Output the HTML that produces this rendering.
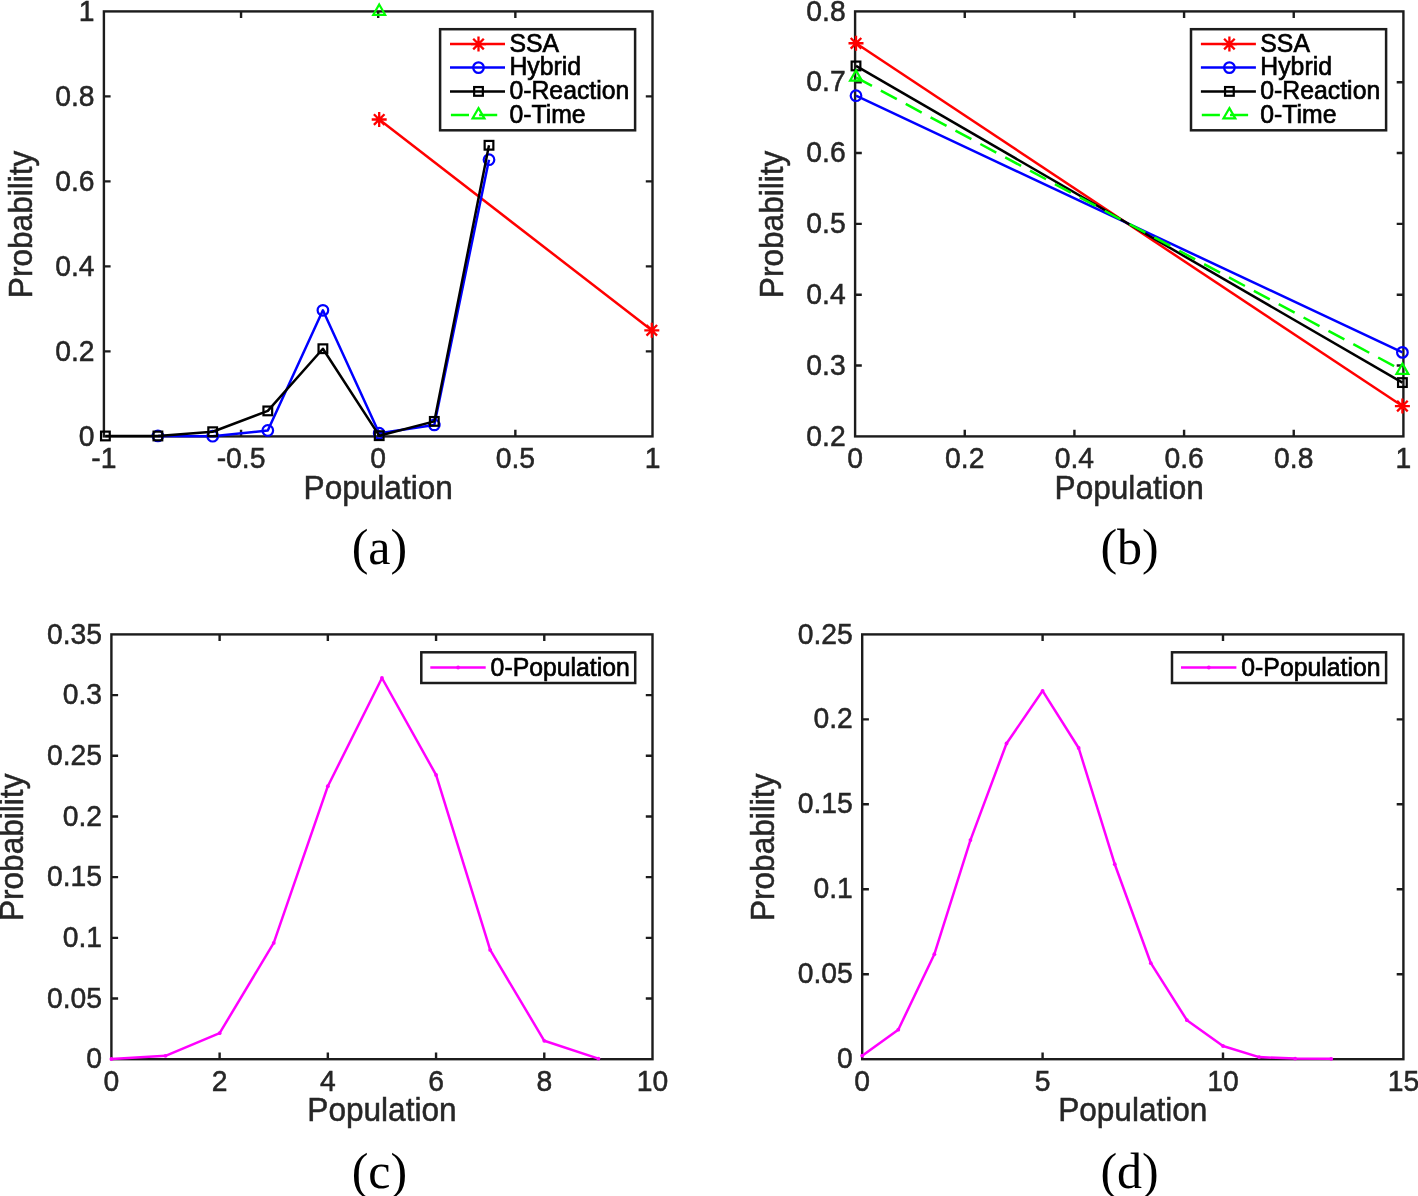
<!DOCTYPE html>
<html><head><meta charset="utf-8"><title>Figure</title>
<style>
html,body{margin:0;padding:0;background:#fff;}
svg{display:block}
.t{font-family:"Liberation Sans",Arial,Helvetica,sans-serif;font-size:28.3px;fill:#262626;stroke:#262626;stroke-width:.5px}
.l{font-family:"Liberation Sans",Arial,Helvetica,sans-serif;font-size:24.8px;fill:#000;stroke:#000;stroke-width:.65px}
.a{font-family:"Liberation Sans",Arial,Helvetica,sans-serif;font-size:31.6px;fill:#262626;stroke:#262626;stroke-width:.5px}
.c{font-family:"Liberation Serif","Times New Roman",Times,serif;font-size:50px;fill:#000}
</style></head><body>
<svg width="1418" height="1196" viewBox="0 0 1418 1196">
<rect width="1418" height="1196" fill="#fff"/>
<path d="M241.05 436.40v-6.7M241.05 11.40v6.7" stroke="#1c1c1c" stroke-width="2.4" fill="none"/>
<path d="M378.20 436.40v-6.7M378.20 11.40v6.7" stroke="#1c1c1c" stroke-width="2.4" fill="none"/>
<path d="M515.35 436.40v-6.7M515.35 11.40v6.7" stroke="#1c1c1c" stroke-width="2.4" fill="none"/>
<path d="M103.90 351.40h6.7M652.50 351.40h-6.7" stroke="#1c1c1c" stroke-width="2.4" fill="none"/>
<path d="M103.90 266.40h6.7M652.50 266.40h-6.7" stroke="#1c1c1c" stroke-width="2.4" fill="none"/>
<path d="M103.90 181.40h6.7M652.50 181.40h-6.7" stroke="#1c1c1c" stroke-width="2.4" fill="none"/>
<path d="M103.90 96.40h6.7M652.50 96.40h-6.7" stroke="#1c1c1c" stroke-width="2.4" fill="none"/>
<rect x="103.90" y="11.40" width="548.60" height="425.00" fill="none" stroke="#1c1c1c" stroke-width="2.4"/>
<text transform="translate(103.90 468.00) scale(1 1.065)" text-anchor="middle" class="t">-1</text>
<text transform="translate(241.05 468.00) scale(1 1.065)" text-anchor="middle" class="t">-0.5</text>
<text transform="translate(378.20 468.00) scale(1 1.065)" text-anchor="middle" class="t">0</text>
<text transform="translate(515.35 468.00) scale(1 1.065)" text-anchor="middle" class="t">0.5</text>
<text transform="translate(652.50 468.00) scale(1 1.065)" text-anchor="middle" class="t">1</text>
<text transform="translate(94.50 445.50) scale(1 1.065)" text-anchor="end" class="t">0</text>
<text transform="translate(94.50 360.50) scale(1 1.065)" text-anchor="end" class="t">0.2</text>
<text transform="translate(94.50 275.50) scale(1 1.065)" text-anchor="end" class="t">0.4</text>
<text transform="translate(94.50 190.50) scale(1 1.065)" text-anchor="end" class="t">0.6</text>
<text transform="translate(94.50 105.50) scale(1 1.065)" text-anchor="end" class="t">0.8</text>
<text transform="translate(94.50 20.50) scale(1 1.065)" text-anchor="end" class="t">1</text>
<path d="M379.20 119.52 L651.80 330.28" fill="none" stroke="#ff0000" stroke-width="2.5" stroke-linejoin="round"/>
<path d="M371.70 119.52h15.0M379.20 112.02v15.0M373.90 114.22l10.60 10.60M373.90 124.82l10.60 -10.60" fill="none" stroke="#ff0000" stroke-width="2.3"/>
<path d="M644.30 330.28h15.0M651.80 322.78v15.0M646.50 324.98l10.60 10.60M646.50 335.58l10.60 -10.60" fill="none" stroke="#ff0000" stroke-width="2.3"/>
<path d="M157.90 435.97 L212.70 436.19 L267.80 430.45 L322.90 310.34 L379.20 433.21 L434.30 424.92 L489.00 159.72" fill="none" stroke="#0000ff" stroke-width="2.5" stroke-linejoin="round"/>
<circle cx="157.90" cy="435.97" r="5.3" fill="none" stroke="#0000ff" stroke-width="2.2"/>
<circle cx="212.70" cy="436.19" r="5.3" fill="none" stroke="#0000ff" stroke-width="2.2"/>
<circle cx="267.80" cy="430.45" r="5.3" fill="none" stroke="#0000ff" stroke-width="2.2"/>
<circle cx="322.90" cy="310.34" r="5.3" fill="none" stroke="#0000ff" stroke-width="2.2"/>
<circle cx="379.20" cy="433.21" r="5.3" fill="none" stroke="#0000ff" stroke-width="2.2"/>
<circle cx="434.30" cy="424.92" r="5.3" fill="none" stroke="#0000ff" stroke-width="2.2"/>
<circle cx="489.00" cy="159.72" r="5.3" fill="none" stroke="#0000ff" stroke-width="2.2"/>
<path d="M105.40 435.97 L157.90 435.97 L212.70 431.72 L267.80 410.90 L322.90 348.72 L379.20 435.68 L434.30 421.40 L489.00 145.27" fill="none" stroke="#000000" stroke-width="2.5" stroke-linejoin="round"/>
<rect x="101.05" y="431.62" width="8.7" height="8.7" fill="none" stroke="#000000" stroke-width="2.2"/>
<rect x="153.55" y="431.62" width="8.7" height="8.7" fill="none" stroke="#000000" stroke-width="2.2"/>
<rect x="208.35" y="427.37" width="8.7" height="8.7" fill="none" stroke="#000000" stroke-width="2.2"/>
<rect x="263.45" y="406.55" width="8.7" height="8.7" fill="none" stroke="#000000" stroke-width="2.2"/>
<rect x="318.55" y="344.37" width="8.7" height="8.7" fill="none" stroke="#000000" stroke-width="2.2"/>
<rect x="374.85" y="431.33" width="8.7" height="8.7" fill="none" stroke="#000000" stroke-width="2.2"/>
<rect x="429.95" y="417.05" width="8.7" height="8.7" fill="none" stroke="#000000" stroke-width="2.2"/>
<rect x="484.65" y="140.92" width="8.7" height="8.7" fill="none" stroke="#000000" stroke-width="2.2"/>
<path d="M379.20 4.50L385.15 14.80L373.25 14.80Z" fill="none" stroke="#00ff00" stroke-width="2.2"/>
<rect x="440.10" y="29.20" width="195.00" height="101.10" fill="#fff" stroke="#1c1c1c" stroke-width="2.5"/>
<path d="M450.00 44.10 L505.00 44.10" fill="none" stroke="#ff0000" stroke-width="2.5" stroke-linejoin="round"/>
<path d="M471.00 44.10h15.0M478.50 36.60v15.0M473.20 38.80l10.60 10.60M473.20 49.40l10.60 -10.60" fill="none" stroke="#ff0000" stroke-width="2.3"/>
<text transform="translate(509.40 51.60) scale(1 1.04)" text-anchor="start" class="l">SSA</text>
<path d="M450.00 67.60 L505.00 67.60" fill="none" stroke="#0000ff" stroke-width="2.5" stroke-linejoin="round"/>
<circle cx="478.50" cy="67.60" r="5.3" fill="none" stroke="#0000ff" stroke-width="2.2"/>
<text transform="translate(509.40 75.10) scale(1 1.04)" text-anchor="start" class="l">Hybrid</text>
<path d="M450.00 91.40 L505.00 91.40" fill="none" stroke="#000000" stroke-width="2.5" stroke-linejoin="round"/>
<rect x="474.15" y="87.05" width="8.7" height="8.7" fill="none" stroke="#000000" stroke-width="2.2"/>
<text transform="translate(509.40 98.90) scale(1 1.04)" text-anchor="start" class="l">0-Reaction</text>
<path d="M450.90 115.00 L505.00 115.00" fill="none" stroke="#00ff00" stroke-width="2.5" stroke-linejoin="round" stroke-dasharray="18.1 10.12"/>
<path d="M478.50 108.10L484.45 118.40L472.55 118.40Z" fill="none" stroke="#00ff00" stroke-width="2.2"/>
<text transform="translate(509.40 122.50) scale(1 1.04)" text-anchor="start" class="l">0-Time</text>
<text transform="translate(32.10 224.40) rotate(-90) scale(1 1.04)" text-anchor="middle" class="a">Probability</text>
<text transform="translate(378.20 498.80) scale(1 1.04)" text-anchor="middle" class="a">Population</text>
<text transform="translate(379.40 563.50) scale(1 1)" text-anchor="middle" class="c">(a)</text>
<path d="M964.76 436.40v-6.7M964.76 11.40v6.7" stroke="#1c1c1c" stroke-width="2.4" fill="none"/>
<path d="M1074.42 436.40v-6.7M1074.42 11.40v6.7" stroke="#1c1c1c" stroke-width="2.4" fill="none"/>
<path d="M1184.08 436.40v-6.7M1184.08 11.40v6.7" stroke="#1c1c1c" stroke-width="2.4" fill="none"/>
<path d="M1293.74 436.40v-6.7M1293.74 11.40v6.7" stroke="#1c1c1c" stroke-width="2.4" fill="none"/>
<path d="M855.10 365.57h6.7M1403.40 365.57h-6.7" stroke="#1c1c1c" stroke-width="2.4" fill="none"/>
<path d="M855.10 294.73h6.7M1403.40 294.73h-6.7" stroke="#1c1c1c" stroke-width="2.4" fill="none"/>
<path d="M855.10 223.90h6.7M1403.40 223.90h-6.7" stroke="#1c1c1c" stroke-width="2.4" fill="none"/>
<path d="M855.10 153.07h6.7M1403.40 153.07h-6.7" stroke="#1c1c1c" stroke-width="2.4" fill="none"/>
<path d="M855.10 82.23h6.7M1403.40 82.23h-6.7" stroke="#1c1c1c" stroke-width="2.4" fill="none"/>
<rect x="855.10" y="11.40" width="548.30" height="425.00" fill="none" stroke="#1c1c1c" stroke-width="2.4"/>
<text transform="translate(855.10 468.00) scale(1 1.065)" text-anchor="middle" class="t">0</text>
<text transform="translate(964.76 468.00) scale(1 1.065)" text-anchor="middle" class="t">0.2</text>
<text transform="translate(1074.42 468.00) scale(1 1.065)" text-anchor="middle" class="t">0.4</text>
<text transform="translate(1184.08 468.00) scale(1 1.065)" text-anchor="middle" class="t">0.6</text>
<text transform="translate(1293.74 468.00) scale(1 1.065)" text-anchor="middle" class="t">0.8</text>
<text transform="translate(1403.40 468.00) scale(1 1.065)" text-anchor="middle" class="t">1</text>
<text transform="translate(845.70 445.50) scale(1 1.065)" text-anchor="end" class="t">0.2</text>
<text transform="translate(845.70 374.67) scale(1 1.065)" text-anchor="end" class="t">0.3</text>
<text transform="translate(845.70 303.83) scale(1 1.065)" text-anchor="end" class="t">0.4</text>
<text transform="translate(845.70 233.00) scale(1 1.065)" text-anchor="end" class="t">0.5</text>
<text transform="translate(845.70 162.17) scale(1 1.065)" text-anchor="end" class="t">0.6</text>
<text transform="translate(845.70 91.33) scale(1 1.065)" text-anchor="end" class="t">0.7</text>
<text transform="translate(845.70 20.50) scale(1 1.065)" text-anchor="end" class="t">0.8</text>
<path d="M856.00 43.27 L1402.40 406.08" fill="none" stroke="#ff0000" stroke-width="2.5" stroke-linejoin="round"/>
<path d="M848.50 43.27h15.0M856.00 35.77v15.0M850.70 37.97l10.60 10.60M850.70 48.57l10.60 -10.60" fill="none" stroke="#ff0000" stroke-width="2.3"/>
<path d="M1394.90 406.08h15.0M1402.40 398.58v15.0M1397.10 400.78l10.60 10.60M1397.10 411.38l10.60 -10.60" fill="none" stroke="#ff0000" stroke-width="2.3"/>
<path d="M856.00 95.69 L1402.40 352.39" fill="none" stroke="#0000ff" stroke-width="2.5" stroke-linejoin="round"/>
<circle cx="856.00" cy="95.69" r="5.3" fill="none" stroke="#0000ff" stroke-width="2.2"/>
<circle cx="1402.40" cy="352.39" r="5.3" fill="none" stroke="#0000ff" stroke-width="2.2"/>
<path d="M856.00 65.94 L1402.40 382.57" fill="none" stroke="#000000" stroke-width="2.5" stroke-linejoin="round"/>
<rect x="851.65" y="61.59" width="8.7" height="8.7" fill="none" stroke="#000000" stroke-width="2.2"/>
<rect x="1398.05" y="378.22" width="8.7" height="8.7" fill="none" stroke="#000000" stroke-width="2.2"/>
<path d="M856.00 77.28 L1402.40 370.52" fill="none" stroke="#00ff00" stroke-width="2.5" stroke-linejoin="round" stroke-dasharray="18.1 10.12"/>
<path d="M856.00 70.38L861.95 80.68L850.05 80.68Z" fill="none" stroke="#00ff00" stroke-width="2.2"/>
<path d="M1402.40 363.62L1408.35 373.92L1396.45 373.92Z" fill="none" stroke="#00ff00" stroke-width="2.2"/>
<rect x="1191.00" y="29.20" width="195.10" height="101.10" fill="#fff" stroke="#1c1c1c" stroke-width="2.5"/>
<path d="M1200.90 44.10 L1255.90 44.10" fill="none" stroke="#ff0000" stroke-width="2.5" stroke-linejoin="round"/>
<path d="M1221.90 44.10h15.0M1229.40 36.60v15.0M1224.10 38.80l10.60 10.60M1224.10 49.40l10.60 -10.60" fill="none" stroke="#ff0000" stroke-width="2.3"/>
<text transform="translate(1260.30 51.60) scale(1 1.04)" text-anchor="start" class="l">SSA</text>
<path d="M1200.90 67.60 L1255.90 67.60" fill="none" stroke="#0000ff" stroke-width="2.5" stroke-linejoin="round"/>
<circle cx="1229.40" cy="67.60" r="5.3" fill="none" stroke="#0000ff" stroke-width="2.2"/>
<text transform="translate(1260.30 75.10) scale(1 1.04)" text-anchor="start" class="l">Hybrid</text>
<path d="M1200.90 91.40 L1255.90 91.40" fill="none" stroke="#000000" stroke-width="2.5" stroke-linejoin="round"/>
<rect x="1225.05" y="87.05" width="8.7" height="8.7" fill="none" stroke="#000000" stroke-width="2.2"/>
<text transform="translate(1260.30 98.90) scale(1 1.04)" text-anchor="start" class="l">0-Reaction</text>
<path d="M1201.80 115.00 L1255.90 115.00" fill="none" stroke="#00ff00" stroke-width="2.5" stroke-linejoin="round" stroke-dasharray="18.1 10.12"/>
<path d="M1229.40 108.10L1235.35 118.40L1223.45 118.40Z" fill="none" stroke="#00ff00" stroke-width="2.2"/>
<text transform="translate(1260.30 122.50) scale(1 1.04)" text-anchor="start" class="l">0-Time</text>
<text transform="translate(783.30 224.40) rotate(-90) scale(1 1.04)" text-anchor="middle" class="a">Probability</text>
<text transform="translate(1129.25 498.80) scale(1 1.04)" text-anchor="middle" class="a">Population</text>
<text transform="translate(1129.60 563.50) scale(1 1)" text-anchor="middle" class="c">(b)</text>
<path d="M219.62 1059.20v-6.7M219.62 634.40v6.7" stroke="#1c1c1c" stroke-width="2.4" fill="none"/>
<path d="M327.84 1059.20v-6.7M327.84 634.40v6.7" stroke="#1c1c1c" stroke-width="2.4" fill="none"/>
<path d="M436.06 1059.20v-6.7M436.06 634.40v6.7" stroke="#1c1c1c" stroke-width="2.4" fill="none"/>
<path d="M544.28 1059.20v-6.7M544.28 634.40v6.7" stroke="#1c1c1c" stroke-width="2.4" fill="none"/>
<path d="M111.40 998.51h6.7M652.50 998.51h-6.7" stroke="#1c1c1c" stroke-width="2.4" fill="none"/>
<path d="M111.40 937.83h6.7M652.50 937.83h-6.7" stroke="#1c1c1c" stroke-width="2.4" fill="none"/>
<path d="M111.40 877.14h6.7M652.50 877.14h-6.7" stroke="#1c1c1c" stroke-width="2.4" fill="none"/>
<path d="M111.40 816.46h6.7M652.50 816.46h-6.7" stroke="#1c1c1c" stroke-width="2.4" fill="none"/>
<path d="M111.40 755.77h6.7M652.50 755.77h-6.7" stroke="#1c1c1c" stroke-width="2.4" fill="none"/>
<path d="M111.40 695.09h6.7M652.50 695.09h-6.7" stroke="#1c1c1c" stroke-width="2.4" fill="none"/>
<rect x="111.40" y="634.40" width="541.10" height="424.80" fill="none" stroke="#1c1c1c" stroke-width="2.4"/>
<text transform="translate(111.40 1090.80) scale(1 1.065)" text-anchor="middle" class="t">0</text>
<text transform="translate(219.62 1090.80) scale(1 1.065)" text-anchor="middle" class="t">2</text>
<text transform="translate(327.84 1090.80) scale(1 1.065)" text-anchor="middle" class="t">4</text>
<text transform="translate(436.06 1090.80) scale(1 1.065)" text-anchor="middle" class="t">6</text>
<text transform="translate(544.28 1090.80) scale(1 1.065)" text-anchor="middle" class="t">8</text>
<text transform="translate(652.50 1090.80) scale(1 1.065)" text-anchor="middle" class="t">10</text>
<text transform="translate(102.00 1068.30) scale(1 1.065)" text-anchor="end" class="t">0</text>
<text transform="translate(102.00 1007.61) scale(1 1.065)" text-anchor="end" class="t">0.05</text>
<text transform="translate(102.00 946.93) scale(1 1.065)" text-anchor="end" class="t">0.1</text>
<text transform="translate(102.00 886.24) scale(1 1.065)" text-anchor="end" class="t">0.15</text>
<text transform="translate(102.00 825.56) scale(1 1.065)" text-anchor="end" class="t">0.2</text>
<text transform="translate(102.00 764.87) scale(1 1.065)" text-anchor="end" class="t">0.25</text>
<text transform="translate(102.00 704.19) scale(1 1.065)" text-anchor="end" class="t">0.3</text>
<text transform="translate(102.00 643.50) scale(1 1.065)" text-anchor="end" class="t">0.35</text>
<path d="M111.40 1059.00 L165.51 1055.80 L219.62 1033.20 L273.73 942.90 L327.84 786.20 L381.95 678.00 L436.06 774.90 L490.17 949.90 L544.28 1040.80 L598.39 1058.60" fill="none" stroke="#ff00ff" stroke-width="2.5" stroke-linejoin="round"/>
<circle cx="111.40" cy="1059.00" r="1.9" fill="#ff00ff"/>
<circle cx="165.51" cy="1055.80" r="1.9" fill="#ff00ff"/>
<circle cx="219.62" cy="1033.20" r="1.9" fill="#ff00ff"/>
<circle cx="273.73" cy="942.90" r="1.9" fill="#ff00ff"/>
<circle cx="327.84" cy="786.20" r="1.9" fill="#ff00ff"/>
<circle cx="381.95" cy="678.00" r="1.9" fill="#ff00ff"/>
<circle cx="436.06" cy="774.90" r="1.9" fill="#ff00ff"/>
<circle cx="490.17" cy="949.90" r="1.9" fill="#ff00ff"/>
<circle cx="544.28" cy="1040.80" r="1.9" fill="#ff00ff"/>
<circle cx="598.39" cy="1058.60" r="1.9" fill="#ff00ff"/>
<rect x="421.30" y="652.30" width="213.90" height="30.70" fill="#fff" stroke="#1c1c1c" stroke-width="2.5"/>
<path d="M430.30 667.50 L485.70 667.50" fill="none" stroke="#ff00ff" stroke-width="2.5" stroke-linejoin="round"/>
<circle cx="458.10" cy="667.50" r="1.9" fill="#ff00ff"/>
<text transform="translate(490.60 675.60) scale(1 1.04)" text-anchor="start" class="l">0-Population</text>
<text transform="translate(23.30 847.30) rotate(-90) scale(1 1.04)" text-anchor="middle" class="a">Probability</text>
<text transform="translate(381.95 1121.10) scale(1 1.04)" text-anchor="middle" class="a">Population</text>
<text transform="translate(379.40 1187.80) scale(1 1)" text-anchor="middle" class="c">(c)</text>
<path d="M1042.60 1059.20v-6.7M1042.60 634.40v6.7" stroke="#1c1c1c" stroke-width="2.4" fill="none"/>
<path d="M1223.00 1059.20v-6.7M1223.00 634.40v6.7" stroke="#1c1c1c" stroke-width="2.4" fill="none"/>
<path d="M862.20 974.24h6.7M1403.40 974.24h-6.7" stroke="#1c1c1c" stroke-width="2.4" fill="none"/>
<path d="M862.20 889.28h6.7M1403.40 889.28h-6.7" stroke="#1c1c1c" stroke-width="2.4" fill="none"/>
<path d="M862.20 804.32h6.7M1403.40 804.32h-6.7" stroke="#1c1c1c" stroke-width="2.4" fill="none"/>
<path d="M862.20 719.36h6.7M1403.40 719.36h-6.7" stroke="#1c1c1c" stroke-width="2.4" fill="none"/>
<rect x="862.20" y="634.40" width="541.20" height="424.80" fill="none" stroke="#1c1c1c" stroke-width="2.4"/>
<text transform="translate(862.20 1090.80) scale(1 1.065)" text-anchor="middle" class="t">0</text>
<text transform="translate(1042.60 1090.80) scale(1 1.065)" text-anchor="middle" class="t">5</text>
<text transform="translate(1223.00 1090.80) scale(1 1.065)" text-anchor="middle" class="t">10</text>
<text transform="translate(1403.40 1090.80) scale(1 1.065)" text-anchor="middle" class="t">15</text>
<text transform="translate(852.80 1068.30) scale(1 1.065)" text-anchor="end" class="t">0</text>
<text transform="translate(852.80 983.34) scale(1 1.065)" text-anchor="end" class="t">0.05</text>
<text transform="translate(852.80 898.38) scale(1 1.065)" text-anchor="end" class="t">0.1</text>
<text transform="translate(852.80 813.42) scale(1 1.065)" text-anchor="end" class="t">0.15</text>
<text transform="translate(852.80 728.46) scale(1 1.065)" text-anchor="end" class="t">0.2</text>
<text transform="translate(852.80 643.50) scale(1 1.065)" text-anchor="end" class="t">0.25</text>
<path d="M862.20 1055.70 L898.28 1029.70 L934.36 954.20 L970.44 840.10 L1006.52 743.50 L1042.60 690.80 L1078.68 748.00 L1114.76 864.20 L1150.84 963.20 L1186.92 1020.20 L1223.00 1046.00 L1259.08 1057.10 L1295.16 1058.60 L1331.24 1058.80" fill="none" stroke="#ff00ff" stroke-width="2.5" stroke-linejoin="round"/>
<circle cx="862.20" cy="1055.70" r="1.9" fill="#ff00ff"/>
<circle cx="898.28" cy="1029.70" r="1.9" fill="#ff00ff"/>
<circle cx="934.36" cy="954.20" r="1.9" fill="#ff00ff"/>
<circle cx="970.44" cy="840.10" r="1.9" fill="#ff00ff"/>
<circle cx="1006.52" cy="743.50" r="1.9" fill="#ff00ff"/>
<circle cx="1042.60" cy="690.80" r="1.9" fill="#ff00ff"/>
<circle cx="1078.68" cy="748.00" r="1.9" fill="#ff00ff"/>
<circle cx="1114.76" cy="864.20" r="1.9" fill="#ff00ff"/>
<circle cx="1150.84" cy="963.20" r="1.9" fill="#ff00ff"/>
<circle cx="1186.92" cy="1020.20" r="1.9" fill="#ff00ff"/>
<circle cx="1223.00" cy="1046.00" r="1.9" fill="#ff00ff"/>
<circle cx="1259.08" cy="1057.10" r="1.9" fill="#ff00ff"/>
<circle cx="1295.16" cy="1058.60" r="1.9" fill="#ff00ff"/>
<circle cx="1331.24" cy="1058.80" r="1.9" fill="#ff00ff"/>
<rect x="1172.00" y="652.30" width="214.10" height="30.70" fill="#fff" stroke="#1c1c1c" stroke-width="2.5"/>
<path d="M1181.00 667.50 L1236.40 667.50" fill="none" stroke="#ff00ff" stroke-width="2.5" stroke-linejoin="round"/>
<circle cx="1208.80" cy="667.50" r="1.9" fill="#ff00ff"/>
<text transform="translate(1241.30 675.60) scale(1 1.04)" text-anchor="start" class="l">0-Population</text>
<text transform="translate(774.20 847.30) rotate(-90) scale(1 1.04)" text-anchor="middle" class="a">Probability</text>
<text transform="translate(1132.80 1121.10) scale(1 1.04)" text-anchor="middle" class="a">Population</text>
<text transform="translate(1129.60 1187.80) scale(1 1)" text-anchor="middle" class="c">(d)</text>
</svg>
</body></html>
